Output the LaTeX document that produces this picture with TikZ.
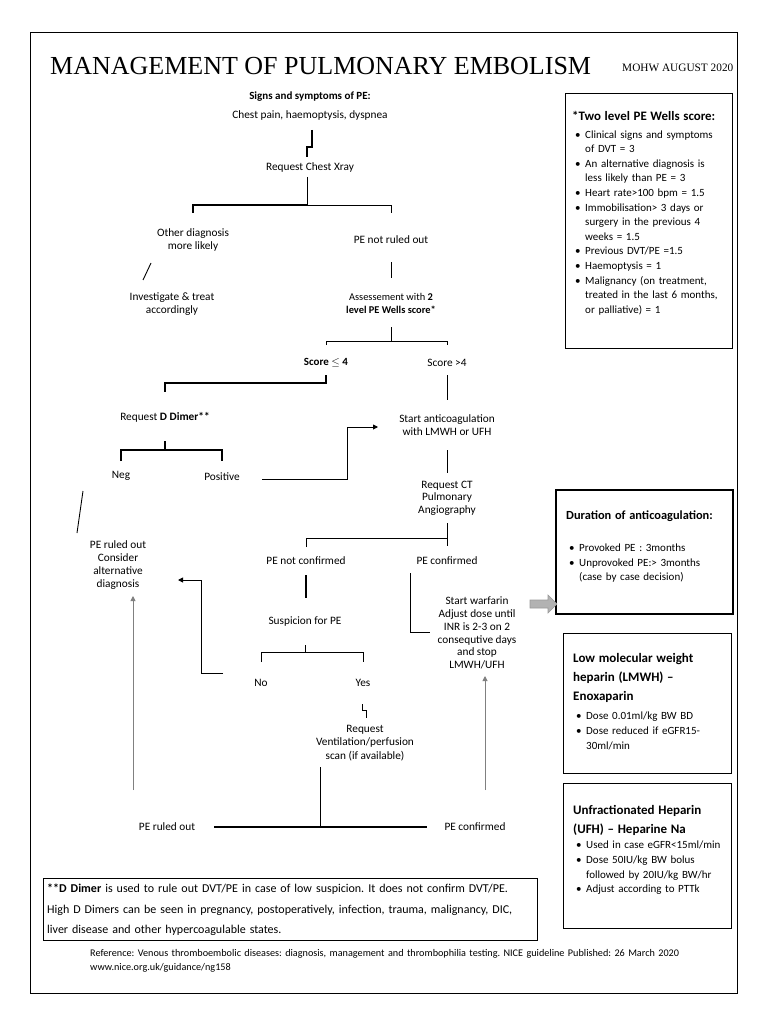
\documentclass[tikz,border=0pt]{standalone}
\usepackage{fontspec}
\setmainfont{Carlito}
\newfontfamily\timesf{Liberation Serif}
\usetikzlibrary{arrows.meta,calc}
\frenchspacing
\newcommand\nl{\hfil\break}
\newcommand\bitem[1]{\par\hangindent=13pt\hangafter=1\noindent\hspace*{3pt}\makebox[10pt][l]{•}#1\par}
\tikzset{
  lbl/.style={inner sep=0pt, align=center, font=\fontsize{11.3}{13.5}\selectfont},
  blbl/.style={inner sep=0pt, align=center, font=\bfseries\fontsize{11}{13.5}\selectfont},
  conn/.style={line width=0.9pt},
  thickconn/.style={line width=1.6pt},
  greyconn/.style={line width=0.9pt, draw=black!50},
  arr/.style={-{Triangle[length=5pt,width=5pt]}},
  infobox/.style={draw, line width=1pt, inner sep=0pt, anchor=north west},
  boxtext/.style={inner sep=0pt, anchor=north west, align=left, font=\fontsize{11}{14.6}\selectfont}
}
\begin{document}
\begin{tikzpicture}[x=1pt,y=-1pt]
\useasboundingbox (0,0) rectangle (768,1024);
\fill[white] (0,0) rectangle (768,1024);
\node[draw, line width=1pt, minimum width=707, minimum height=961, anchor=north west, inner sep=0pt] (frame) at (30,32) {};

% titles
\node[inner sep=0pt, anchor=base west, font=\timesf\fontsize{26}{28}\selectfont] (title) at (50,75) {MANAGEMENT OF PULMONARY EMBOLISM};
\node[inner sep=0pt, anchor=base west, font=\timesf\fontsize{11.3}{13}\selectfont] (mohw) at (622,72) {MOHW AUGUST 2020};

% flow nodes
\node[blbl] (signs) at (310,97) {Signs and symptoms of PE:};
\node[lbl] (chest) at (310,115) {Chest pain, haemoptysis, dyspnea};
\node[lbl] (xray) at (310,167) {Request Chest Xray};
\node[lbl] (other) at (193,240) {Other diagnosis\\more likely};
\node[lbl] (notruled) at (391,240) {PE not ruled out};
\node[lbl] (invest) at (172,304) {Investigate \& treat\\accordingly};
\node[lbl, font=\fontsize{10.4}{13}\selectfont] (assess) at (391,303) {Assessement with \textbf{2}\\\textbf{level PE Wells score*}};
\node[blbl] (le4) at (326,363) {Score \(\leq\) 4};
\node[lbl] (gt4) at (447,363) {Score >4};
\node[lbl] (ddimer) at (165,417) {Request \textbf{D Dimer**}};
\node[lbl] (anticoag) at (447,425) {Start anticoagulation\\with LMWH or UFH};
\node[lbl] (neg) at (121,476) {Neg};
\node[lbl] (pos) at (222,477) {Positive};
\node[lbl, font=\fontsize{11.3}{12.5}\selectfont] (ct) at (447,498) {Request CT\\Pulmonary\\Angiography};
\node[lbl, font=\fontsize{11.3}{12.7}\selectfont] (ruled1) at (118,565) {PE ruled out\\Consider\\alternative\\diagnosis};
\node[lbl] (notconf) at (306,561) {PE not confirmed};
\node[lbl] (conf) at (447,561) {PE confirmed};
\node[lbl] (susp) at (305,622) {Suspicion for PE};
\node[lbl] (no) at (261,683) {No};
\node[lbl] (yes) at (363,683) {Yes};
\node[lbl] (vq) at (365,743) {Request\\Ventilation/perfusion\\scan (if available)};
\node[lbl] (ruled2) at (167,827) {PE ruled out};
\node[lbl] (conf2) at (475,827) {PE confirmed};
\node[lbl, font=\fontsize{11.3}{12.8}\selectfont] (warf) at (477,633) {Start warfarin\\Adjust dose until\\INR is 2-3 on 2\\consequtive days\\and stop\\LMWH/UFH};

% connector coordinates
\coordinate (a1) at (312,130); \coordinate (a2) at (312,147); \coordinate (a3) at (307,147); \coordinate (a4) at (307,157);
\coordinate (b1) at (307,177); \coordinate (b2) at (307,205);
\coordinate (bl1) at (193,205); \coordinate (bl2) at (193,213);
\coordinate (br1) at (391,205); \coordinate (br2) at (391,213);
\coordinate (s1) at (151,263); \coordinate (s2) at (143,280);
\coordinate (n1) at (391,262); \coordinate (n2) at (391,278);
\coordinate (w1) at (391,327); \coordinate (w2) at (391,341);
\coordinate (wl1) at (326,341); \coordinate (wl2) at (326,345);
\coordinate (wr1) at (447,341); \coordinate (wr2) at (447,345);
\coordinate (l1) at (326,375); \coordinate (l2) at (326,383); \coordinate (l3) at (165,383); \coordinate (l4) at (165,392);
\coordinate (g1) at (447,375); \coordinate (g2) at (447,400);
\coordinate (d1) at (165,441); \coordinate (d2) at (165,450);
\coordinate (dl1) at (121,450); \coordinate (dl2) at (121,461);
\coordinate (dr1) at (222,450); \coordinate (dr2) at (222,461);
\coordinate (p1) at (262,479); \coordinate (p2) at (347,479); \coordinate (p3) at (347,427); \coordinate (p4) at (378,427);
\coordinate (k1) at (447,450); \coordinate (k2) at (447,473);
\coordinate (t1) at (447,523); \coordinate (t2) at (447,546); \coordinate (t3) at (447,538);
\coordinate (tl1) at (306,538); \coordinate (tl2) at (306,547);
\coordinate (ns1) at (83,491); \coordinate (ns2) at (77,533);
\coordinate (nc1) at (306,575); \coordinate (nc2) at (306,598);
\coordinate (no1) at (223,673); \coordinate (no2) at (201,673); \coordinate (no3) at (201,580); \coordinate (no4) at (178,580);
\coordinate (q1) at (305,645); \coordinate (q2) at (305,652);
\coordinate (ql1) at (261,652); \coordinate (ql2) at (261,662);
\coordinate (qr1) at (363,652); \coordinate (qr2) at (363,662);
\coordinate (y1) at (362,704); \coordinate (y2) at (362,710); \coordinate (y3) at (366,710); \coordinate (y4) at (366,718);
\coordinate (v1) at (320,767); \coordinate (v2) at (320,827);
\coordinate (h1) at (214,827); \coordinate (h2) at (427,827);
\coordinate (gl1) at (133,790); \coordinate (gl2) at (133,596);
\coordinate (gr1) at (485,790); \coordinate (gr2) at (485,676);
\coordinate (cf1) at (410,573); \coordinate (cf2) at (410,632); \coordinate (cf3) at (430,632);

% connectors
\draw[line width=1.3pt] (a1) -- (a2) -- (a3) -- (a4);
\draw[conn] (b1) -- (b2);
\draw[thickconn] (bl2) -- (bl1) -- (b2);
\draw[conn] (b2) -- (br1) -- (br2);
\draw[conn] (s1) -- (s2);
\draw[conn] (n1) -- (n2);
\draw[conn] (w1) -- (w2);
\draw[conn] (wl2) -- (wl1) -- (wr1) -- (wr2);
\draw[thickconn] (l1) -- (l2) -- (l3) -- (l4);
\draw[conn] (g1) -- (g2);
\draw[thickconn] (d1) -- (d2);
\draw[thickconn] (dl2) -- (dl1) -- (dr1) -- (dr2);
\draw[conn, arr] (p1) -- (p2) -- (p3) -- (p4);
\draw[conn] (k1) -- (k2);
\draw[conn] (t1) -- (t2);
\draw[conn] (tl2) -- (tl1) -- (t3);
\draw[conn] (ns1) -- (ns2);
\draw[thickconn] (nc1) -- (nc2);
\draw[conn, arr] (no1) -- (no2) -- (no3) -- (no4);
\draw[conn] (q1) -- (q2);
\draw[conn] (ql2) -- (ql1) -- (qr1) -- (qr2);
\draw[conn] (y1) -- (y2) -- (y3) -- (y4);
\draw[conn] (v1) -- (v2);
\draw[thickconn] (h1) -- (h2);
\draw[greyconn, arr] (gl1) -- (gl2);
\draw[greyconn, arr] (gr1) -- (gr2);
\draw[conn] (cf1) -- (cf2) -- (cf3);

% boxes
\node[infobox, minimum width=167, minimum height=255] (wells) at (565,93) {};
\node[boxtext, text width=162] (wellstxt) at (572,111) {{\bfseries\fontsize{12.9}{14.6}\selectfont *Two level PE Wells score:\par}\vspace{3pt}
\bitem{Clinical signs and symptoms\nl of DVT = 3}
\bitem{An alternative diagnosis is\nl less likely than PE = 3}
\bitem{Heart rate>100 bpm = 1.5}
\bitem{Immobilisation> 3 days or\nl surgery in the previous 4\nl weeks = 1.5}
\bitem{Previous DVT/PE =1.5}
\bitem{Haemoptysis = 1}
\bitem{Malignancy (on treatment,\nl treated in the last 6 months,\nl or palliative) = 1}};

\node[infobox, line width=1.6pt, minimum width=177, minimum height=124] (dur) at (555,489) {};
\node[boxtext, text width=172] (durtxt) at (566,511) {{\bfseries\fontsize{12.4}{14.6}\selectfont Duration of anticoagulation:\par}\vspace{17pt}
\bitem{Provoked PE : 3months}
\bitem{Unprovoked PE:> 3months\nl (case by case decision)}};

\node[infobox, minimum width=168, minimum height=140] (lmwh) at (563,633) {};
\node[boxtext, text width=162] (lmwhtxt) at (573,653) {{\bfseries\fontsize{13}{19}\selectfont Low molecular weight\\heparin (LMWH) –\\Enoxaparin\par}\vspace{5pt}
\bitem{Dose 0.01ml/kg BW BD}
\bitem{Dose reduced if eGFR15-\nl 30ml/min}};

\node[infobox, minimum width=168, minimum height=145] (ufh) at (563,783) {};
\node[boxtext, text width=162] (ufhtxt) at (573,805) {{\bfseries\fontsize{13}{19}\selectfont Unfractionated Heparin\\(UFH) – Heparine Na\par}\vspace{1pt}
\bitem{Used in case eGFR<15ml/min}
\bitem{Dose 50IU/kg BW bolus\nl followed by 20IU/kg BW/hr}
\bitem{Adjust according to PTTk}};

\node[infobox, line width=1.2pt, minimum width=494, minimum height=62] (dbox) at (43,878) {};
\node[boxtext, text width=490, font=\fontsize{12}{20.5}\selectfont] (dtxt) at (47,884) {\textbf{**D Dimer} is used to rule out DVT/PE in case of low suspicion. It does not confirm DVT/PE.\\High D Dimers can be seen in pregnancy, postoperatively, infection, trauma, malignancy, DIC,\\liver disease and other hypercoagulable states.};

\node[boxtext, text width=660, font=\fontsize{10.2}{14}\selectfont] (ref) at (90,949) {Reference: Venous thromboembolic diseases: diagnosis, management and thrombophilia testing. NICE guideline Published: 26 March 2020\\www.nice.org.uk/guidance/ng158};

% block arrow from warfarin to duration box
\coordinate (ba) at (530,604);
\fill[gray!60, draw=gray!80, line width=0.6pt] (ba) ++(0,-4) -- ++(18,0) -- ++(0,-5) -- ++(9,9) -- ++(-9,9) -- ++(0,-5) -- ++(-18,0) -- cycle;
\end{tikzpicture}
\end{document}
